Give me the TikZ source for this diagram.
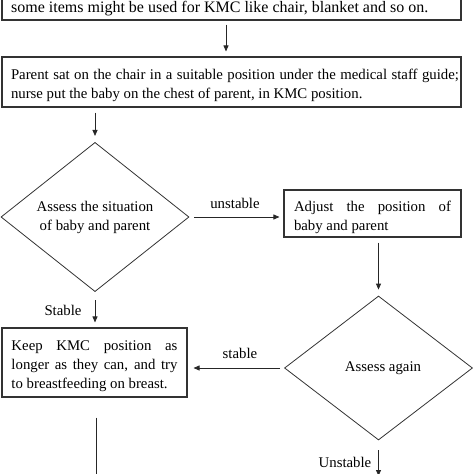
\documentclass[tikz,border=0pt]{standalone}
\usepackage{fontspec}
\setmainfont{Liberation Serif}
\usetikzlibrary{arrows.meta,shapes.geometric}
\hyphenpenalty=10000
\exhyphenpenalty=10000
\tikzset{
  txt/.style={font=\fontsize{14.8}{19}\selectfont},
  box/.style={draw=black!80, line width=1.1pt, rectangle, inner ysep=0pt, txt},
  dia/.style={draw=black!80, line width=0.8pt, shape=diamond, inner sep=0pt,
              minimum width=188pt, minimum height=144pt, align=center, txt},
  arr/.style={draw=black!85, line width=0.8pt, -{Triangle[length=6pt,width=5pt]}},
  plain/.style={draw=black!85, line width=0.8pt},
  lab/.style={txt, inner sep=0pt}
}
\begin{document}
\begin{tikzpicture}[x=1pt,y=-1pt]
\useasboundingbox (0,0) rectangle (474,474);
\clip (0,0) rectangle (474,474);
% top box (cut off at the top)
\node[box, minimum width=459pt, minimum height=70pt] (b1) at (231.5,-15) {};
\node[lab, anchor=west, font=\fontsize{16}{19}\selectfont] (t1) at (11,8.5) {some items might be used for KMC like chair, blanket and so on.};
% second box
\node[box, minimum width=459pt, minimum height=50pt, inner xsep=2pt] (b2) at (231.5,82)
  {\hspace*{7pt}\parbox{448pt}{\vspace*{6pt}Parent sat on the chair in a suitable position under the medical staff guide;\linebreak nurse put the baby on the chest of parent, in KMC position.}};
% diamond 1
\node[dia] (d1) at (95,217) {Assess the situation\\of baby and parent};
% box 3
\node[box, minimum width=177pt, minimum height=47pt, inner xsep=10pt] (b3) at (372.5,213.5)
  {\parbox{157pt}{\vspace*{7pt}Adjust the position of\linebreak baby and parent}};
% diamond 2
\node[dia] (d2) at (378.5,368) {\hspace*{9pt}Assess again};
% box 4
\node[box, minimum width=185pt, minimum height=69pt, inner xsep=9.5pt] (b4) at (94.5,362.5)
  {\parbox{166pt}{\vspace*{7pt}Keep KMC position as\linebreak longer as they can, and try\linebreak to breastfeeding on breast.}};
% helper coordinates
\coordinate (c1) at (226,0);
\coordinate (e1) at (96,500);
\coordinate (e2) at (378.5,476);
% connectors
\draw[arr, shorten <=4pt, shorten >=5pt] (b1.south -| c1) -- (b2.north -| c1);
\draw[arr, shorten <=5pt, shorten >=6pt] (b2.south -| d1.north) -- (d1.north);
\draw[arr, shorten <=5pt, shorten >=4pt] (d1.east) -- (d1.east -| b3.west);
\draw[arr, shorten <=5pt, shorten >=6pt] (b3.south -| d2.north) -- (d2.north);
\draw[arr, shorten <=4pt, shorten >=6pt] (d2.west) -- (d2.west -| b4.east);
\draw[arr, shorten <=8pt, shorten >=5pt] (d1.south) -- (b4.north -| d1.south);
\draw[plain, shorten <=20pt] (b4.south -| e1) -- (e1);
\draw[arr, shorten <=10pt] (d2.south) -- (e2);
% labels
\node[lab] (l1) at (235,203) {unstable};
\node[lab] (l2) at (240,353) {stable};
\node[lab] (l3) at (63,310) {Stable};
\node[lab] (l4) at (345,462) {Unstable};
\end{tikzpicture}
\end{document}
